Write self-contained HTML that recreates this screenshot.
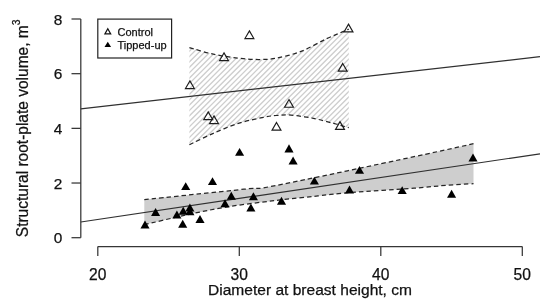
<!DOCTYPE html><html><head><meta charset="utf-8"><title>Structural root-plate volume</title>
<style>html,body{margin:0;padding:0;background:#fff}svg{display:block}text{font-family:"Liberation Sans",Arial,Helvetica,sans-serif;fill:#111;stroke:#111;stroke-width:0.25px}</style></head><body>
<svg width="550" height="308" viewBox="0 0 550 308">
<rect width="550" height="308" fill="#fff"/>
<clipPath id="hc"><path d="M189.40 47.60 C193.38 48.70 205.13 52.43 213.30 54.20 C221.47 55.97 230.88 57.32 238.40 58.20 C245.92 59.08 252.13 59.50 258.40 59.50 C264.67 59.50 268.88 59.55 276.00 58.20 C283.12 56.85 292.73 54.62 301.10 51.40 C309.47 48.18 319.10 42.23 326.20 38.90 C333.30 35.57 339.93 33.05 343.70 31.40 C347.47 29.75 347.95 29.40 348.80 29.00 L348.80 127.70 C346.28 126.98 339.57 124.95 333.70 123.40 C327.83 121.85 320.72 119.78 313.60 118.40 C306.48 117.02 297.27 115.58 291.00 115.10 C284.73 114.62 280.60 115.12 276.00 115.50 C271.40 115.88 269.67 116.10 263.40 117.40 C257.13 118.70 246.75 120.63 238.40 123.30 C230.05 125.97 221.47 129.83 213.30 133.40 C205.13 136.97 193.38 142.82 189.40 144.70 Z"/></clipPath>
<path clip-path="url(#hc)" d="M31.10 150L161.10 20M36.50 150L166.50 20M41.90 150L171.90 20M47.30 150L177.30 20M52.70 150L182.70 20M58.10 150L188.10 20M63.50 150L193.50 20M68.90 150L198.90 20M74.30 150L204.30 20M79.70 150L209.70 20M85.10 150L215.10 20M90.50 150L220.50 20M95.90 150L225.90 20M101.30 150L231.30 20M106.70 150L236.70 20M112.10 150L242.10 20M117.50 150L247.50 20M122.90 150L252.90 20M128.30 150L258.30 20M133.70 150L263.70 20M139.10 150L269.10 20M144.50 150L274.50 20M149.90 150L279.90 20M155.30 150L285.30 20M160.70 150L290.70 20M166.10 150L296.10 20M171.50 150L301.50 20M176.90 150L306.90 20M182.30 150L312.30 20M187.70 150L317.70 20M193.10 150L323.10 20M198.50 150L328.50 20M203.90 150L333.90 20M209.30 150L339.30 20M214.70 150L344.70 20M220.10 150L350.10 20M225.50 150L355.50 20M230.90 150L360.90 20M236.30 150L366.30 20M241.70 150L371.70 20M247.10 150L377.10 20M252.50 150L382.50 20M257.90 150L387.90 20M263.30 150L393.30 20M268.70 150L398.70 20M274.10 150L404.10 20M279.50 150L409.50 20M284.90 150L414.90 20M290.30 150L420.30 20M295.70 150L425.70 20M301.10 150L431.10 20M306.50 150L436.50 20M311.90 150L441.90 20M317.30 150L447.30 20M322.70 150L452.70 20M328.10 150L458.10 20M333.50 150L463.50 20M338.90 150L468.90 20M344.30 150L474.30 20M349.70 150L479.70 20M355.10 150L485.10 20M360.50 150L490.50 20M365.90 150L495.90 20M371.30 150L501.30 20M376.70 150L506.70 20M382.10 150L512.10 20" stroke="#cecece" stroke-width="1.35" fill="none"/>
<path d="M189.40 47.60 C193.38 48.70 205.13 52.43 213.30 54.20 C221.47 55.97 230.88 57.32 238.40 58.20 C245.92 59.08 252.13 59.50 258.40 59.50 C264.67 59.50 268.88 59.55 276.00 58.20 C283.12 56.85 292.73 54.62 301.10 51.40 C309.47 48.18 319.10 42.23 326.20 38.90 C333.30 35.57 339.93 33.05 343.70 31.40 C347.47 29.75 347.95 29.40 348.80 29.00" fill="none" stroke="#262626" stroke-width="1.25" stroke-dasharray="4.5 3"/>
<path d="M189.40 144.70 C193.38 142.82 205.13 136.97 213.30 133.40 C221.47 129.83 230.05 125.97 238.40 123.30 C246.75 120.63 257.13 118.70 263.40 117.40 C269.67 116.10 271.40 115.88 276.00 115.50 C280.60 115.12 284.73 114.62 291.00 115.10 C297.27 115.58 306.48 117.02 313.60 118.40 C320.72 119.78 327.83 121.85 333.70 123.40 C339.57 124.95 346.28 126.98 348.80 127.70" fill="none" stroke="#262626" stroke-width="1.25" stroke-dasharray="4.5 3"/>
<path d="M144.30 199.60 C160.92 197.87 222.05 191.55 244.00 189.20 C265.95 186.85 247.67 190.92 276.00 185.50 C304.33 180.08 381.08 163.67 414.00 156.70 C446.92 149.73 463.58 145.87 473.50 143.70 L473.50 183.70 C469.00 183.97 456.42 184.55 446.50 185.30 C436.58 186.05 429.87 187.02 414.00 188.20 C398.13 189.38 367.30 191.12 351.30 192.40 C335.30 193.68 330.55 194.57 318.00 195.90 C305.45 197.23 291.00 198.58 276.00 200.40 C261.00 202.22 243.00 204.37 228.00 206.80 C213.00 209.23 199.95 212.02 186.00 215.00 C172.05 217.98 151.25 223.08 144.30 224.70 Z" fill="#cecece"/>
<path d="M144.30 199.60 C160.92 197.87 222.05 191.55 244.00 189.20 C265.95 186.85 247.67 190.92 276.00 185.50 C304.33 180.08 381.08 163.67 414.00 156.70 C446.92 149.73 463.58 145.87 473.50 143.70" fill="none" stroke="#262626" stroke-width="1.25" stroke-dasharray="4.5 3"/>
<path d="M144.30 224.70 C151.25 223.08 172.05 217.98 186.00 215.00 C199.95 212.02 213.00 209.23 228.00 206.80 C243.00 204.37 261.00 202.22 276.00 200.40 C291.00 198.58 305.45 197.23 318.00 195.90 C330.55 194.57 335.30 193.68 351.30 192.40 C367.30 191.12 398.13 189.38 414.00 188.20 C429.87 187.02 436.58 186.05 446.50 185.30 C456.42 184.55 469.00 183.97 473.50 183.70" fill="none" stroke="#262626" stroke-width="1.25" stroke-dasharray="4.5 3"/>
<line x1="80.8" y1="108.8" x2="540" y2="56.7" stroke="#303030" stroke-width="1.2"/>
<line x1="80.8" y1="222.0" x2="540" y2="153.8" stroke="#303030" stroke-width="1.2"/>
<g stroke="#363636" stroke-width="1.25" fill="none">
<path d="M80.8 19.0V237.7"/>
<path d="M71.5 237.70H80.8"/>
<path d="M71.5 183.02H80.8"/>
<path d="M71.5 128.35H80.8"/>
<path d="M71.5 73.68H80.8"/>
<path d="M71.5 19.00H80.8"/>
<path d="M97.8 246.5H522.3"/>
<path d="M97.80 246.5V255.9"/>
<path d="M239.30 246.5V255.9"/>
<path d="M380.80 246.5V255.9"/>
<path d="M522.30 246.5V255.9"/>
</g>
<text x="58" y="243.25" font-size="15.4" text-anchor="middle">0</text>
<text x="58" y="188.57" font-size="15.4" text-anchor="middle">2</text>
<text x="58" y="133.90" font-size="15.4" text-anchor="middle">4</text>
<text x="58" y="79.23" font-size="15.4" text-anchor="middle">6</text>
<text x="58" y="24.55" font-size="15.4" text-anchor="middle">8</text>
<text x="97.80" y="279.9" font-size="15.6" text-anchor="middle">20</text>
<text x="239.30" y="279.9" font-size="15.6" text-anchor="middle">30</text>
<text x="380.80" y="279.9" font-size="15.6" text-anchor="middle">40</text>
<text x="522.30" y="279.9" font-size="15.6" text-anchor="middle">50</text>
<text x="208" y="295.2" font-size="15.3" textLength="204" lengthAdjust="spacingAndGlyphs">Diameter at breast height, cm</text>
<text transform="translate(27.5 237.2) rotate(-90)" font-size="15.9" textLength="211.9" lengthAdjust="spacingAndGlyphs">Structural root-plate volume, m</text>
<text transform="translate(20.2 237) rotate(-90)" x="211.7" font-size="10.3">3</text>
<rect x="97.8" y="19.1" width="73.8" height="38.9" fill="#fff" stroke="#222" stroke-width="1.2"/>
<path d="M107.8 28.7L110.7 33.9H104.9Z" fill="none" stroke="#111" stroke-width="1.2"/>
<path d="M107.8 41.7L111.1 46.9H104.5Z" fill="#000"/>
<text x="117.5" y="36" font-size="11">Control</text>
<text x="117.5" y="49.2" font-size="11">Tipped-up</text>
<path d="M249.40 30.85L253.86 38.58H244.94Z" fill="none" stroke="#1c1c1c" stroke-width="1.15"/>
<path d="M224.00 52.85L228.46 60.58H219.54Z" fill="none" stroke="#1c1c1c" stroke-width="1.15"/>
<path d="M189.90 80.85L194.36 88.58H185.44Z" fill="none" stroke="#1c1c1c" stroke-width="1.15"/>
<path d="M208.20 111.85L212.66 119.58H203.74Z" fill="none" stroke="#1c1c1c" stroke-width="1.15"/>
<path d="M214.00 115.85L218.46 123.58H209.54Z" fill="none" stroke="#1c1c1c" stroke-width="1.15"/>
<path d="M348.50 24.15L352.96 31.88H344.04Z" fill="none" stroke="#1c1c1c" stroke-width="1.15"/>
<path d="M342.70 63.45L347.16 71.17H338.24Z" fill="none" stroke="#1c1c1c" stroke-width="1.15"/>
<path d="M289.00 99.55L293.46 107.28H284.54Z" fill="none" stroke="#1c1c1c" stroke-width="1.15"/>
<path d="M340.00 121.65L344.46 129.38H335.54Z" fill="none" stroke="#1c1c1c" stroke-width="1.15"/>
<path d="M276.50 122.45L280.96 130.17H272.04Z" fill="none" stroke="#1c1c1c" stroke-width="1.15"/>
<path d="M145.00 220.60L149.55 228.50H140.45Z" fill="#000"/>
<path d="M155.60 208.00L160.15 216.00H151.05Z" fill="#000"/>
<path d="M176.90 210.50L181.45 218.50H172.35Z" fill="#000"/>
<path d="M182.70 219.80L187.25 227.80H178.15Z" fill="#000"/>
<path d="M183.20 206.80L187.75 214.70H178.65Z" fill="#000"/>
<path d="M185.70 182.20L190.25 190.10H181.15Z" fill="#000"/>
<path d="M189.90 203.50L194.45 211.50H185.35Z" fill="#000"/>
<path d="M189.90 207.30L194.45 215.20H185.35Z" fill="#000"/>
<path d="M200.00 215.10L204.55 223.00H195.45Z" fill="#000"/>
<path d="M212.50 177.20L217.05 185.10H207.95Z" fill="#000"/>
<path d="M225.00 199.30L229.55 207.20H220.45Z" fill="#000"/>
<path d="M231.30 191.70L235.85 199.70H226.75Z" fill="#000"/>
<path d="M239.60 147.90L244.15 155.80H235.05Z" fill="#000"/>
<path d="M250.90 203.50L255.45 211.50H246.35Z" fill="#000"/>
<path d="M253.40 192.20L257.95 200.20H248.85Z" fill="#000"/>
<path d="M293.10 156.60L297.65 164.50H288.55Z" fill="#000"/>
<path d="M281.50 196.70L286.05 204.70H276.95Z" fill="#000"/>
<path d="M314.40 176.70L318.95 184.60H309.85Z" fill="#000"/>
<path d="M349.50 185.50L354.05 193.40H344.95Z" fill="#000"/>
<path d="M359.50 165.90L364.05 173.80H354.95Z" fill="#000"/>
<path d="M402.20 186.20L406.75 194.10H397.65Z" fill="#000"/>
<path d="M289.00 144.30L293.55 152.50H284.45Z" fill="#000"/>
<path d="M451.60 189.70L456.15 197.70H447.05Z" fill="#000"/>
<path d="M473.00 153.60L477.55 161.50H468.45Z" fill="#000"/>
</svg></body></html>
